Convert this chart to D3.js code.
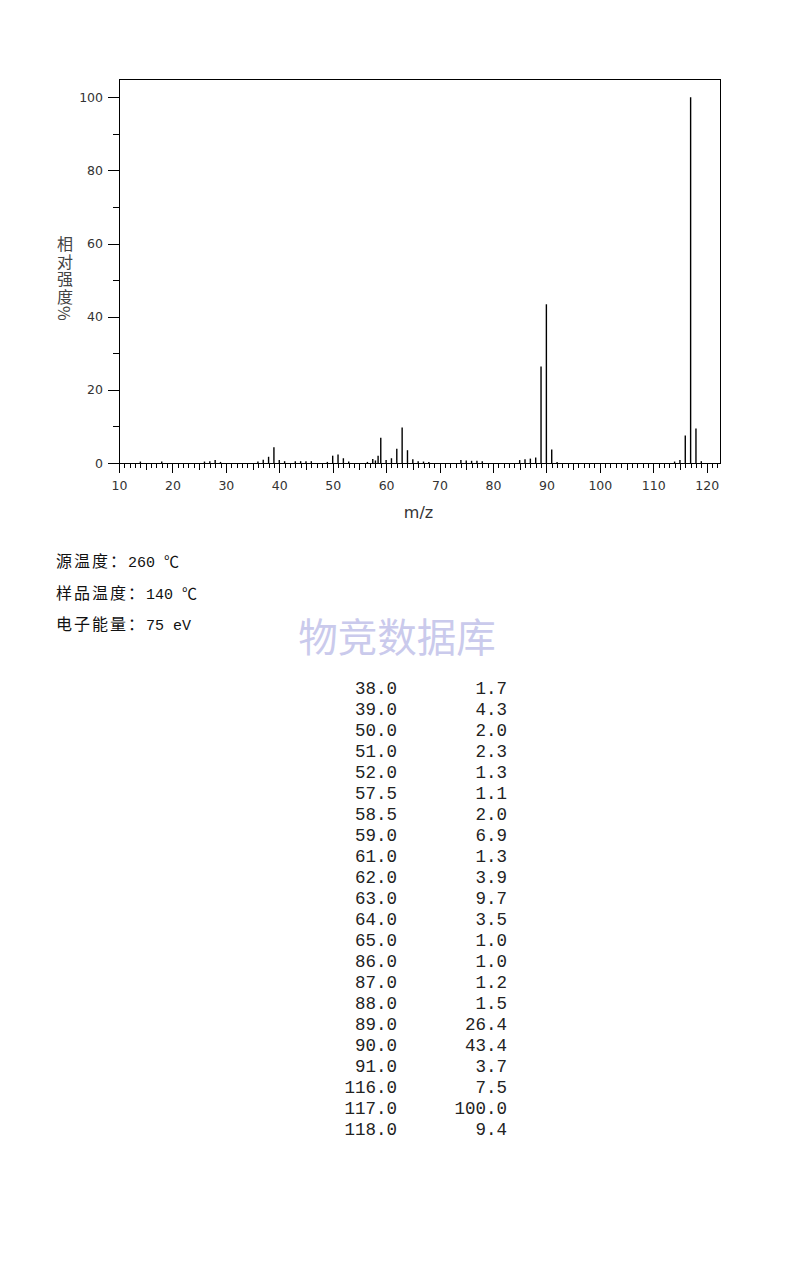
<!DOCTYPE html>
<html>
<head>
<meta charset="utf-8">
<script src="https://cdn.jsdelivr.net/npm/d3@7"></script>
<style>
  body { margin: 0; background: #fff; }
</style>
</head>
<body>
<svg id="ms_chart"></svg>
<script>
// peak positions (m/z) and relative intensities (%)
const peakMz = [14, 18, 26, 27, 28, 29, 36, 37, 38, 39, 40, 41, 43, 44, 45, 46, 49, 50, 51, 52, 53,
  56.5, 57.5, 58, 58.5, 59, 60, 61, 62, 63, 64, 65, 66, 67, 68,
  74, 75, 76, 77, 78, 85, 86, 87, 88, 89, 90, 91, 92, 114, 115, 116, 117, 118, 119];
const peakIntensity = [0.4, 0.4, 0.4, 0.5, 0.8, 0.3, 0.4, 0.9, 1.7, 4.3, 0.8, 0.5, 0.5, 0.5, 0.5, 0.5, 0.3, 2.0, 2.3, 1.3, 0.4,
  0.3, 1.1, 0.7, 2.0, 6.9, 0.8, 1.3, 3.9, 9.7, 3.5, 1.0, 0.5, 0.4, 0.3,
  0.8, 0.7, 0.6, 0.6, 0.5, 0.8, 1.0, 1.2, 1.5, 26.4, 43.4, 3.7, 0.3, 0.4, 0.8, 7.5, 100.0, 9.4, 0.5];

// listed peaks (table under the chart)
const tableMz = ["38.0", "39.0", "50.0", "51.0", "52.0", "57.5", "58.5", "59.0", "61.0", "62.0", "63.0",
  "64.0", "65.0", "86.0", "87.0", "88.0", "89.0", "90.0", "91.0", "116.0", "117.0", "118.0"];
const tableIntensity = ["1.7", "4.3", "2.0", "2.3", "1.3", "1.1", "2.0", "6.9", "1.3", "3.9", "9.7",
  "3.5", "1.0", "1.0", "1.2", "1.5", "26.4", "43.4", "3.7", "7.5", "100.0", "9.4"];

const xTicksMajor = [10, 20, 30, 40, 50, 60, 70, 80, 90, 100, 110, 120];
const yTicksMajor = [0, 20, 40, 60, 80, 100];
const yTitle = "相对强度%";
const infoLabels = ["源温度：", "样品温度：", "电子能量："];
const infoValues = ["260 ℃", "140 ℃", "75 eV"];
const watermark = "物竞数据库";

const W = 794, H = 1276;
const plot = {left: 119, right: 720, top: 79, bottom: 463};

const svg = d3.select("#ms_chart")
    .attr("width", W)
    .attr("height", H);

// scales
const x = d3.scaleLinear()
    .domain([10, 122.5])
    .range([plot.left, plot.right]);

const y = d3.scaleLinear()
    .domain([0, 105])
    .range([plot.bottom, plot.top]);

const axisFont = "DejaVu Sans, Verdana, sans-serif";

// x axis: minor (1), medium (5), major (10) ticks pointing down
svg.append("g")
    .attr("transform", `translate(0,${plot.bottom})`)
    .call(d3.axisBottom(x).tickValues(d3.range(10, 123, 1)).tickSize(5).tickFormat(""));
svg.append("g")
    .attr("transform", `translate(0,${plot.bottom})`)
    .call(d3.axisBottom(x).tickValues(d3.range(15, 123, 10)).tickSize(7).tickFormat(""));
svg.append("g")
    .attr("class", "x-major")
    .attr("transform", `translate(0,${plot.bottom})`)
    .call(d3.axisBottom(x).tickValues(xTicksMajor).tickSize(10).tickPadding(8).tickFormat(d3.format("d")));

// y axis: minor every 10, major every 20 with labels
svg.append("g")
    .attr("transform", `translate(${plot.left},0)`)
    .call(d3.axisLeft(y).tickValues([10, 30, 50, 70, 90]).tickSize(6).tickFormat(""));
svg.append("g")
    .attr("class", "y-major")
    .attr("transform", `translate(${plot.left},0)`)
    .call(d3.axisLeft(y).tickValues(yTicksMajor).tickSize(11).tickPadding(5).tickFormat(d3.format("d")));

svg.selectAll(".domain").remove();
svg.selectAll(".tick line").attr("stroke", "#000").attr("shape-rendering", "crispEdges");
svg.selectAll(".x-major text, .y-major text")
    .attr("font-family", axisFont)
    .attr("font-size", 12.5)
    .attr("fill", "#333");

// frame
svg.append("rect")
    .attr("x", plot.left)
    .attr("y", plot.top)
    .attr("width", plot.right - plot.left)
    .attr("height", plot.bottom - plot.top)
    .attr("fill", "none")
    .attr("stroke", "#000")
    .attr("stroke-width", 1)
    .attr("shape-rendering", "crispEdges");

// peaks
svg.append("g")
    .selectAll("line")
    .data(peakMz)
    .join("line")
    .attr("x1", d => x(d))
    .attr("x2", d => x(d))
    .attr("y1", y(0))
    .attr("y2", (d, i) => y(peakIntensity[i]))
    .attr("stroke", "#000")
    .attr("stroke-width", 1.4);

// axis titles
svg.append("text")
    .attr("x", (plot.left + plot.right) / 2 - 1)
    .attr("y", 518)
    .attr("text-anchor", "middle")
    .attr("font-family", axisFont)
    .attr("font-size", 16)
    .attr("fill", "#333")
    .text("m/z");

// vertical title, one string set in vertical writing mode
svg.append("text")
    .attr("x", 65)
    .attr("y", 236)
    .style("writing-mode", "vertical-rl")
    .attr("font-family", "Noto Sans CJK SC")
    .attr("font-size", 16)
    .attr("letter-spacing", 1.5)
    .attr("fill", "#444")
    .text(yTitle);

// measurement conditions
const info = svg.append("g");
infoLabels.forEach((label, i) => {
    const t = info.append("text")
        .attr("x", 56)
        .attr("y", 567 + i * 31.5)
        .attr("font-size", 16)
        .attr("fill", "#111");
    t.append("tspan")
        .attr("font-family", "Noto Sans CJK SC")
        .attr("letter-spacing", 2)
        .text(label);
    t.append("tspan")
        .attr("font-family", "Liberation Mono, Noto Sans CJK SC")
        .attr("font-size", 15)
        .text(infoValues[i]);
});

// watermark
svg.append("text")
    .attr("x", 397)
    .attr("y", 652)
    .attr("text-anchor", "middle")
    .attr("font-family", "Noto Sans CJK SC")
    .attr("font-size", 39.5)
    .attr("fill", "#cacaec")
    .text(watermark);

// peak table
const rowY = d3.scalePoint()
    .domain(d3.range(tableMz.length))
    .range([694, 1135]);

const table = svg.append("g")
    .attr("font-family", "Liberation Mono, Courier New, monospace")
    .attr("font-size", 17.5)
    .attr("fill", "#222");

table.selectAll("text.mz")
    .data(tableMz)
    .join("text")
    .attr("class", "mz")
    .attr("x", 397)
    .attr("y", (d, i) => rowY(i))
    .attr("text-anchor", "end")
    .text(d => d);

table.selectAll("text.rel")
    .data(tableIntensity)
    .join("text")
    .attr("class", "rel")
    .attr("x", 507)
    .attr("y", (d, i) => rowY(i))
    .attr("text-anchor", "end")
    .text(d => d);
</script>
</body>
</html>
